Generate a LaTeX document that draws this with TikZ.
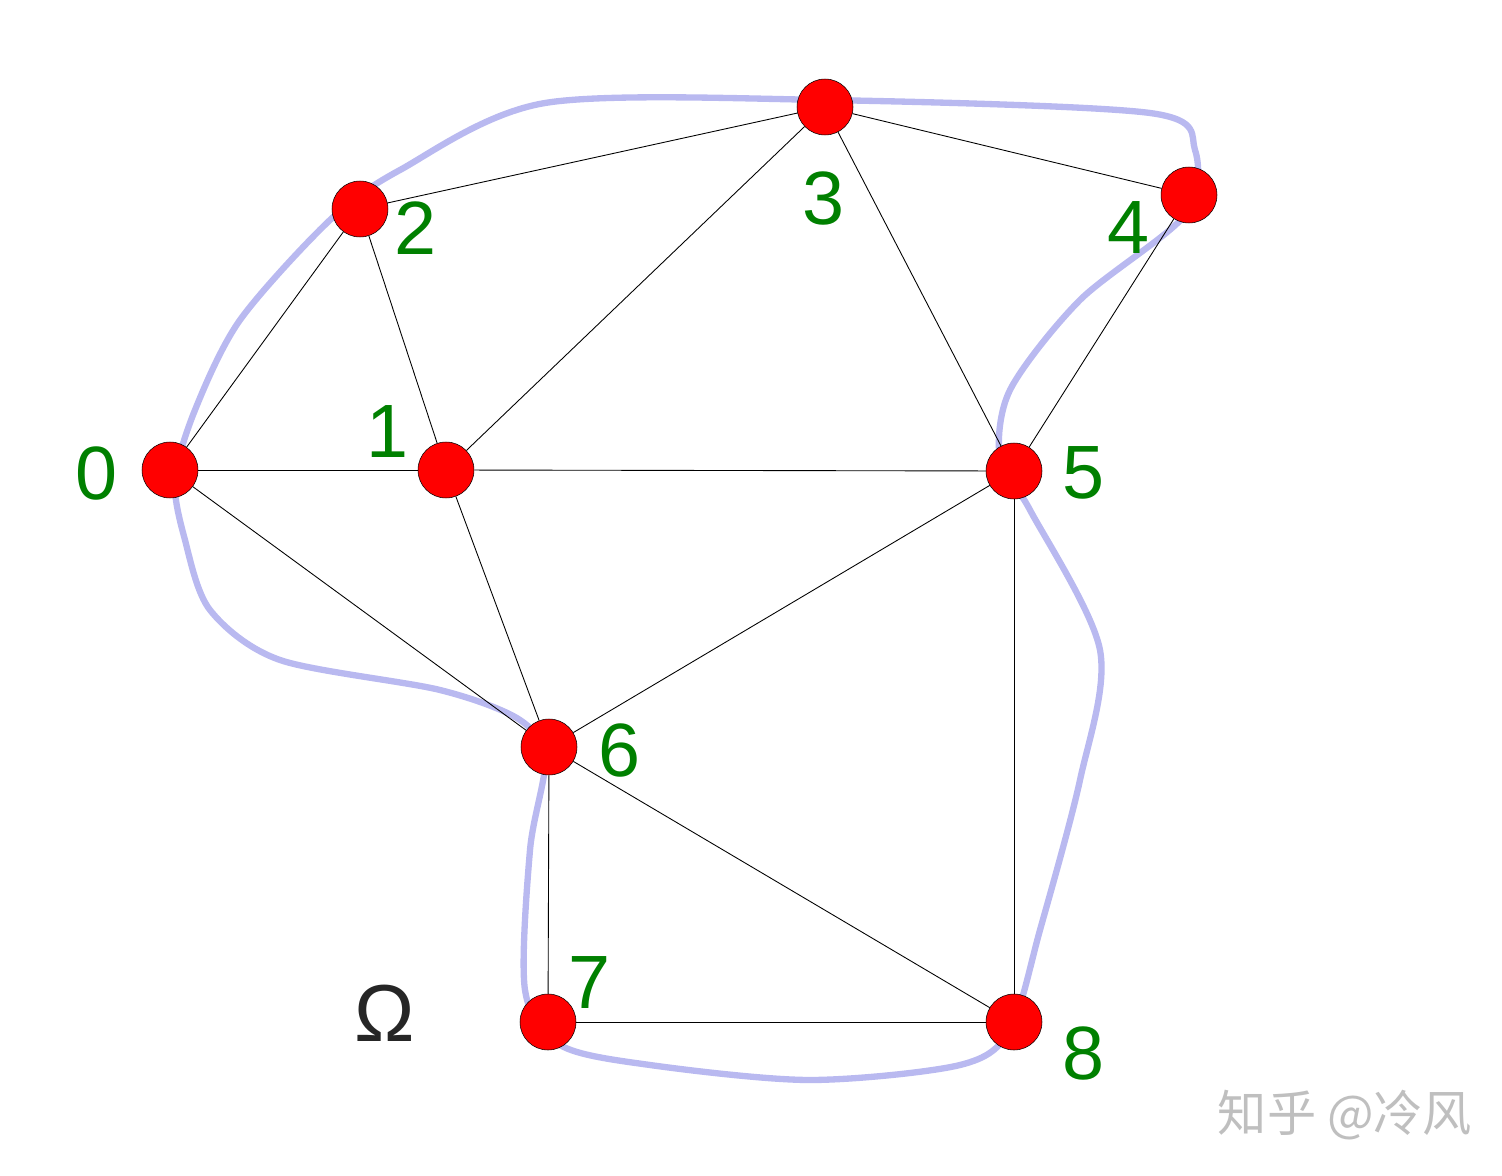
\documentclass[tikz,border=0pt]{standalone}
\usepackage{fontspec}
\setmainfont{Liberation Sans}
\newfontfamily\cjk{Noto Sans CJK SC}
\begin{document}
\begin{tikzpicture}[x=0.02cm,y=-0.02cm,
  vtx/.style={circle,fill=red,draw=black,line width=0.3pt,minimum size=1.12cm,inner sep=0pt},
  lbl/.style={text=green!50!black,font=\fontsize{43}{43}\selectfont},
  edge/.style={line width=0.5pt,draw=black}]
\useasboundingbox (0,0) rectangle (1502,1176);
\definecolor{lav}{RGB}{185,185,240}
\draw[lav,line width=3.6pt,line join=round] plot[smooth cycle,tension=0.5] coordinates{
(545,103) (825,100) (1150,113) (1195,150) (1185,215) (1080,300) (1010,390) (1000,460) (1030,510) (1100,650) (1080,780) (1040,930) (1010,1030) (960,1065) (810,1080) (650,1065) (560,1045) (525,990) (530,850) (545,760) (520,720) (440,690) (280,660) (210,610) (185,540) (175,480) (195,410) (240,320) (330,220) (400,170)};
\node[vtx] (n0) at (170,470) {};
\node[vtx] (n1) at (446,470) {};
\node[vtx] (n2) at (360,209) {};
\node[vtx] (n3) at (825,107) {};
\node[vtx] (n4) at (1189,195) {};
\node[vtx] (n5) at (1014,471) {};
\node[vtx] (n6) at (549,747) {};
\node[vtx] (n7) at (548,1022) {};
\node[vtx] (n8) at (1014,1022) {};
\foreach \a/\b in {n0/n2,n0/n1,n0/n6,n2/n1,n2/n3,n3/n1,n3/n4,n3/n5,n4/n5,n1/n5,n1/n6,n5/n6,n5/n8,n6/n7,n6/n8,n7/n8}
  \draw[edge] (\a) -- (\b);
\node[lbl] (l0) at (97,473) {0};
\node[lbl] (l1) at (388,432) {1};
\node[lbl] (l2) at (416,228) {2};
\node[lbl] (l3) at (824,198) {3};
\node[lbl] (l4) at (1128,228) {4};
\node[lbl] (l5) at (1083,473) {5};
\node[lbl] (l6) at (620,750) {6};
\node[lbl] (l7) at (590,983) {7};
\node[lbl] (l8) at (1083,1053) {8};
\node[font=\fontsize{46}{46}\selectfont,text=black!85] (om) at (385,1013) {Ω};
\node[text=black!25,font=\cjk\fontsize{28}{28}\selectfont] (wm) at (1345,1115) {知乎 @冷风};
\end{tikzpicture}
\end{document}
